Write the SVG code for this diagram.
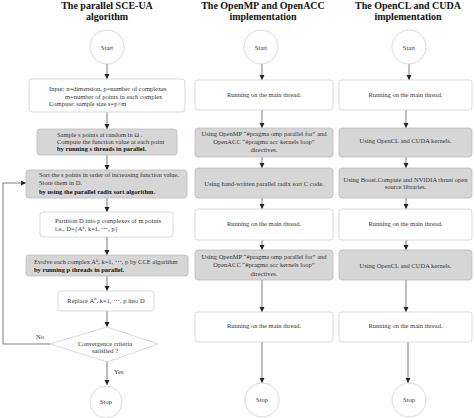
<svg xmlns="http://www.w3.org/2000/svg" width="474" height="418" viewBox="0 0 474 418">
<defs>
<marker id="ah" markerWidth="6" markerHeight="6" refX="5" refY="3" orient="auto" markerUnits="userSpaceOnUse">
<path d="M0,0.5 L5,3 L0,5.5 Z" fill="#222"/>
</marker>
<style>
.title{font-family:"Liberation Serif",serif;font-weight:bold;font-size:10px;fill:#111;text-anchor:middle}
.t{font-family:"Liberation Serif",serif;font-size:6.5px;fill:#333}
.c{text-anchor:middle}
.b{font-weight:bold;fill:#111}
.wb{fill:#fff;stroke:#cfcfcf;stroke-width:0.8}
.gb{fill:#d6d6d6;stroke:#bdbdbd;stroke-width:0.8}
.circ{fill:#fff;stroke:#cfcfcf;stroke-width:0.8}
.ln{stroke:#444;stroke-width:0.7;fill:none}
.ar{stroke:#444;stroke-width:0.7;fill:none;marker-end:url(#ah)}
</style>
</defs>
<rect width="474" height="418" fill="#fff"/>
<g id="titles">
<text class="title" x="107" y="9">The parallel SCE-UA</text>
<text class="title" x="107" y="20">algorithm</text>
<text class="title" x="263" y="9">The OpenMP and OpenACC</text>
<text class="title" x="263" y="20">implementation</text>
<text class="title" x="408" y="9">The OpenCL and CUDA</text>
<text class="title" x="408" y="20">implementation</text>
</g>
<g id="connectors">
<line class="ar" x1="107" y1="64" x2="107" y2="79"/>
<line class="ar" x1="107" y1="112" x2="107" y2="129"/>
<line class="ar" x1="107" y1="155" x2="107" y2="170"/>
<line class="ar" x1="107" y1="198" x2="107" y2="212"/>
<line class="ar" x1="107" y1="237" x2="107" y2="255"/>
<line class="ar" x1="107" y1="276" x2="107" y2="291"/>
<line class="ar" x1="107" y1="311" x2="107" y2="327"/>
<line class="ar" x1="107" y1="362" x2="107" y2="385"/>
<polyline class="ar" points="50,344 3,344 3,183 26,183"/>
<line class="ar" x1="262" y1="64" x2="262" y2="80"/>
<line class="ar" x1="262" y1="110" x2="262" y2="128"/>
<line class="ar" x1="262" y1="157" x2="262" y2="168"/>
<line class="ar" x1="262" y1="198" x2="262" y2="209"/>
<line class="ar" x1="262" y1="240" x2="262" y2="250"/>
<line class="ar" x1="262" y1="280" x2="262" y2="312"/>
<line class="ar" x1="262" y1="342" x2="262" y2="383"/>
<line class="ar" x1="409" y1="64" x2="409" y2="80"/>
<line class="ar" x1="406" y1="110" x2="406" y2="128"/>
<line class="ar" x1="406" y1="157" x2="406" y2="168"/>
<line class="ar" x1="406" y1="198" x2="406" y2="209"/>
<line class="ar" x1="406" y1="240" x2="406" y2="250"/>
<line class="ar" x1="406" y1="280" x2="406" y2="312"/>
<line class="ar" x1="408" y1="342" x2="408" y2="383"/>
<text class="t" x="36" y="339">No</text>
<text class="t" x="114" y="374">Yes</text>
</g>
<g id="c1-start"><circle class="circ" cx="107" cy="47" r="17"/><text class="t c" x="107" y="49.5">Start</text></g>
<g id="c1-input"><rect class="wb" x="29" y="79" width="156" height="33" rx="3"/>
<text class="t" x="49" y="91">Input: n=dimension, p=number of complexes</text>
<text class="t" x="65" y="98.5">m=number of points in each complex</text>
<text class="t" x="49" y="106">Compute: sample size s=p×m</text></g>
<g id="c1-sample"><rect class="gb" x="37" y="129" width="140" height="26" rx="3"/>
<text class="t" x="57" y="136.5">Sample s points at random in Ω .</text>
<text class="t" x="57" y="143.5">Compute the function value at each point</text>
<text class="t b" x="57" y="150.5">by running s threads in parallel.</text></g>
<g id="c1-sort"><rect class="gb" x="26" y="170" width="161" height="28" rx="3"/>
<text class="t" x="39" y="177">Sort the s points in order of increasing function value.</text>
<text class="t" x="39" y="185">Store them in D.</text>
<text class="t b" x="39" y="194">by using the parallel radix sort algorithm.</text></g>
<g id="c1-partition"><rect class="wb" x="40" y="212" width="133" height="25" rx="3"/>
<text class="t" x="55" y="223">Partition D into p complexes of m points</text>
<text class="t" x="55" y="231">i.e., D={A<tspan font-size="4.5" dy="-2.5">k</tspan><tspan dy="2.5">, k=1, ⋯, p}</tspan></text></g>
<g id="c1-evolve"><rect class="gb" x="26" y="255" width="162" height="21" rx="3"/>
<text class="t" x="34" y="264">Evolve each complex A<tspan font-size="4.5" dy="-2.5">k</tspan><tspan dy="2.5">, k=1, ⋯, p by CCE algorithm</tspan></text>
<text class="t b" x="34" y="271.5">by running  p threads in parallel.</text></g>
<g id="c1-replace"><rect class="wb" x="58" y="291" width="96" height="20" rx="3"/>
<text class="t c" x="106" y="302.5">Replace A<tspan font-size="4.5" dy="-2.5">k</tspan><tspan dy="2.5">, k=1, ⋯, p into D</tspan></text></g>
<g id="c1-converge"><polygon class="circ" points="107,327 158,344 107,362 50,344"/>
<text class="t c" x="105" y="346">Convergence criteria</text>
<text class="t c" x="105" y="353">satisfied ?</text></g>
<g id="c1-stop"><circle class="circ" cx="106" cy="402" r="16"/><text class="t c" x="106" y="404">Stop</text></g>

<g id="c2-start"><circle class="circ" cx="261" cy="47" r="17"/><text class="t c" x="261" y="49.5">Start</text></g>
<g id="c2-main1"><rect class="wb" x="195" y="80" width="138" height="30" rx="3"/><text class="t c" x="264" y="97">Running on the main thread.</text></g>
<g id="c2-omp1"><rect class="gb" x="195" y="128" width="138" height="29" rx="3"/>
<text class="t c" x="264" y="135.5">Using OpenMP “#pragma omp parallel for” and</text>
<text class="t c" x="264" y="144">OpenACC “#pragma acc kernels loop”</text>
<text class="t c" x="264" y="151.5">directives.</text></g>
<g id="c2-radix"><rect class="gb" x="195" y="168" width="138" height="30" rx="3"/><text class="t c" x="264" y="185.5">Using hand-written parallel radix sort C code.</text></g>
<g id="c2-main2"><rect class="wb" x="195" y="209" width="138" height="31" rx="3"/><text class="t c" x="264" y="226">Running on the main thread.</text></g>
<g id="c2-omp2"><rect class="gb" x="195" y="250" width="138" height="30" rx="3"/>
<text class="t c" x="264" y="259">Using OpenMP “#pragma omp parallel for” and</text>
<text class="t c" x="264" y="267">OpenACC “#pragma acc kernels loop”</text>
<text class="t c" x="264" y="275.5">directives.</text></g>
<g id="c2-main3"><rect class="wb" x="195" y="312" width="138" height="30" rx="3"/><text class="t c" x="264" y="328">Running on the main thread.</text></g>
<g id="c2-stop"><circle class="circ" cx="262" cy="400" r="17"/><text class="t c" x="262" y="402">Stop</text></g>

<g id="c3-start"><circle class="circ" cx="409" cy="47" r="17"/><text class="t c" x="409" y="49.5">Start</text></g>
<g id="c3-main1"><rect class="wb" x="339" y="80" width="133" height="30" rx="3"/><text class="t c" x="405.5" y="97">Running on the main thread.</text></g>
<g id="c3-kern1"><rect class="gb" x="339" y="128" width="133" height="29" rx="3"/><text class="t c" x="405.5" y="142.5">Using OpenCL and CUDA kernels.</text></g>
<g id="c3-boost"><rect class="gb" x="339" y="168" width="133" height="30" rx="3"/>
<text class="t c" x="405.5" y="181.5">Using Boost.Compute and NVIDIA thrust open</text>
<text class="t c" x="405.5" y="189">source libraries.</text></g>
<g id="c3-main2"><rect class="wb" x="339" y="209" width="133" height="31" rx="3"/><text class="t c" x="405.5" y="226">Running on the main thread.</text></g>
<g id="c3-kern2"><rect class="gb" x="339" y="250" width="133" height="30" rx="3"/><text class="t c" x="405.5" y="267.5">Using OpenCL and CUDA kernels.</text></g>
<g id="c3-main3"><rect class="wb" x="339" y="312" width="133" height="30" rx="3"/><text class="t c" x="405.5" y="328">Running on the main thread.</text></g>
<g id="c3-stop"><circle class="circ" cx="409" cy="400" r="17"/><text class="t c" x="409" y="402">Stop</text></g>
</svg>
